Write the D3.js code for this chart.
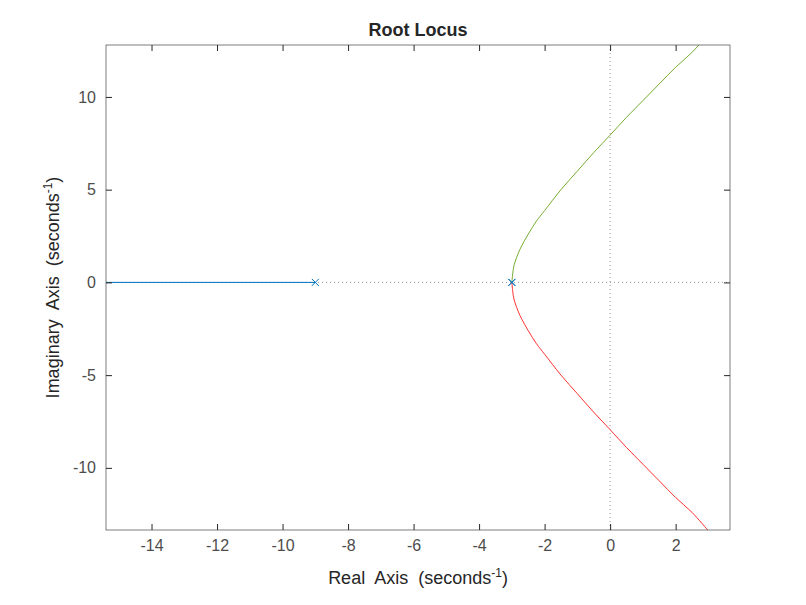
<!DOCTYPE html>
<html><head><meta charset="utf-8">
<script src="https://cdn.jsdelivr.net/npm/d3@7"></script>
<style>body{margin:0;background:#fff}svg{font-family:"Liberation Sans",Arial,sans-serif}</style>
</head><body>
<script>
// values
var xTicks = [-14,-12,-10,-8,-6,-4,-2,0,2];
var yTicks = [-10,-5,0,5,10];
var poles = [[-9,0],[-3,0],[-3,0]];
var blueBranch = [[-9,0],[-15.4,0]];
var greenBranch = [[-3,0],[-2.95,0.78],[-2.9,1.11],[-2.8,1.59],[-2.7,1.97],[-2.5,2.6],[-2.25,3.3],[-2,3.87],[-1.5,5.0],[-1,6],[-0.5,7.0],[0,7.94],[0.5,8.9],[1,9.8],[1.5,10.7],[2,11.6],[2.5,12.4],[3,13.4]];
var redBranch = greenBranch.map(function(p){return [p[0],-p[1]];});

var W = 806, H = 605;
var m = {l:106, t:45, r:730, b:530};
var svg = d3.select("body").append("svg").attr("width",W).attr("height",H);
var x = d3.scaleLinear().domain([-15.39,3.66]).range([m.l,m.r]);
var y = d3.scaleLinear().domain([-13.35,12.8]).range([m.b,m.t]);

svg.append("defs").append("clipPath").attr("id","c").append("rect")
  .attr("x",m.l).attr("y",m.t).attr("width",m.r-m.l).attr("height",m.b-m.t);

var g = svg.append("g").attr("clip-path","url(#c)");
g.append("line").attr("x1",x(0)).attr("x2",x(0)).attr("y1",m.t).attr("y2",m.b)
  .attr("stroke","#999").attr("stroke-dasharray","1,3");
g.append("line").attr("x1",m.l).attr("x2",m.r).attr("y1",y(0)).attr("y2",y(0))
  .attr("stroke","#999").attr("stroke-dasharray","1,3");

var line = d3.line().x(function(d){return x(d[0]);}).y(function(d){return y(d[1]);}).curve(d3.curveCatmullRom);
[[blueBranch,"#0072BD"],[greenBranch,"#77AC30"],[redBranch,"#FF3333"]].forEach(function(b){
  g.append("path").attr("d",line(b[0])).attr("fill","none").attr("stroke",b[1]).attr("stroke-width",1);
});
poles.forEach(function(p){
  var cx=x(p[0]), cy=y(p[1]), s=3.5;
  g.append("path").attr("d","M"+(cx-s)+","+(cy-s)+"L"+(cx+s)+","+(cy+s)+"M"+(cx-s)+","+(cy+s)+"L"+(cx+s)+","+(cy-s))
    .attr("stroke","#0072BD").attr("stroke-width",1);
});

svg.append("rect").attr("x",m.l).attr("y",m.t).attr("width",m.r-m.l).attr("height",m.b-m.t)
  .attr("fill","none").attr("stroke","#262626").attr("stroke-width",0.6);

function axisStyle(a){a.select(".domain").remove();a.selectAll("line").attr("stroke","#262626");
  a.selectAll("text").attr("fill","#4d4d4d").attr("font-size",16);}
svg.append("g").attr("transform","translate(0,"+m.b+")")
  .call(d3.axisBottom(x).tickValues(xTicks).tickSize(-6).tickPadding(10)).call(axisStyle);
svg.append("g").attr("transform","translate(0,"+m.t+")")
  .call(d3.axisTop(x).tickValues(xTicks).tickSize(-6).tickFormat("")).call(axisStyle);
svg.append("g").attr("transform","translate("+m.l+",0)")
  .call(d3.axisLeft(y).tickValues(yTicks).tickSize(-6).tickPadding(10)).call(axisStyle);
svg.append("g").attr("transform","translate("+m.r+",0)")
  .call(d3.axisRight(y).tickValues(yTicks).tickSize(-6).tickFormat("")).call(axisStyle);
svg.selectAll(".tick text").text(function(){return this.textContent.replace("−","-");});

svg.append("text").attr("x",(m.l+m.r)/2).attr("y",36).attr("text-anchor","middle")
  .attr("font-size",18).attr("font-weight","bold").attr("fill","#262626").text("Root Locus");
var xl = svg.append("text").attr("x",(m.l+m.r)/2).attr("y",584).attr("text-anchor","middle")
  .attr("font-size",18).attr("fill","#262626").attr("xml:space","preserve");
xl.append("tspan").text("Real  Axis  (seconds");
xl.append("tspan").attr("dy",-7).attr("font-size",12).text("-1");
xl.append("tspan").attr("dy",7).text(")");
var yl = svg.append("text").attr("transform","translate(59,"+((m.t+m.b)/2)+") rotate(-90)")
  .attr("text-anchor","middle").attr("font-size",18).attr("fill","#262626").attr("xml:space","preserve");
yl.append("tspan").text("Imaginary  Axis  (seconds");
yl.append("tspan").attr("dy",-7).attr("font-size",12).text("-1");
yl.append("tspan").attr("dy",7).text(")");
</script>
</body></html>
